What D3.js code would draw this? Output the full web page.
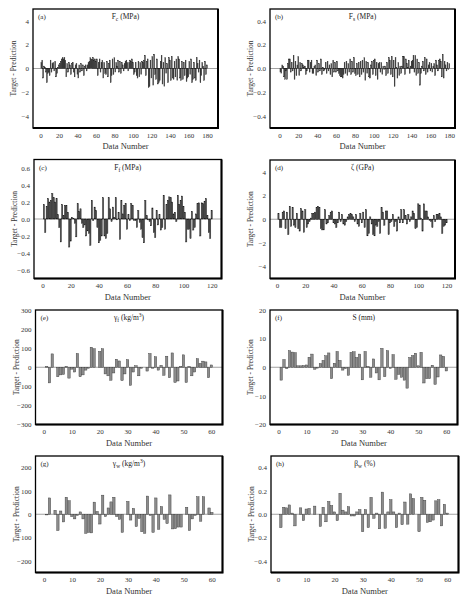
<!DOCTYPE html>
<html><head><meta charset="utf-8">
<script src="https://cdn.jsdelivr.net/npm/d3@7"></script>
<style>body{margin:0;background:#fff}svg{display:block}text{font-family:"Liberation Serif","DejaVu Serif",serif}</style>
</head><body><svg id="c" width="474" height="596"></svg>
<script>
// ---- data (Target - Prediction residuals) ----
const valuesA = [0.5,0.7,-0.8,0.2,0.1,-0.3,-1.2,-0.4,-0.3,-0.6,
 0.7,-0.3,0.4,0.5,-0.2,0.6,-0.7,-0.4,0.1,0.3,
 0.4,0.6,0.8,0.9,0.8,0.9,0.7,-0.7,0.4,-0.3,
 0.5,0.3,-0.5,0.4,0.5,-0.3,-0.7,0.3,0.4,-0.5,
 -0.8,0.3,-0.3,0.4,-0.2,0.3,-0.6,0.2,0.3,-0.2,
 0.3,0.5,0.6,0.9,0.8,0.8,0.9,0.7,0.8,0.6,
 0.8,-0.6,0.5,0.8,-0.3,0.5,0.7,-0.8,0.5,-0.4,
 -0.5,0.6,-0.7,0.4,0.7,-1.2,-0.6,0.8,-0.5,0.9,
 -0.3,0.5,0.2,0.7,-0.3,0.6,-0.4,0.5,0.3,-0.2,
 0.4,0.6,0.7,0.5,-0.2,0.5,0.7,0.6,0.8,0.5,
 -0.5,-0.3,0.5,-0.6,-0.8,0.6,-0.7,0.5,-0.5,0.6,
 0.5,0.7,1.1,-0.6,0.6,0.8,-1.6,-1.5,0.7,-0.8,
 1.0,-1.4,1.2,-0.5,-0.9,0.8,-1.3,-1.2,-1.0,0.6,
 1.1,-1.3,0.5,-1.5,0.9,-0.4,0.4,-1.2,0.9,0.7,
 -1.0,1.0,-0.8,-0.9,0.6,-0.7,0.8,-1.0,1.0,0.8,
 -0.8,-1.0,0.6,-0.9,0.5,-0.6,0.7,-1.1,-0.8,-0.7,
 0.6,-0.5,0.8,-1.2,-0.9,0.5,-0.8,-1.0,0.9,0.4,
 -0.3,0.7,-1.2,-0.6,0.5,0.2,-1.0,0.6,-0.5,0.3];
const valuesB = [-0.03,-0.04,0.03,0.02,-0.07,-0.09,-0.02,-0.09,0.04,0.08,
 0.08,-0.03,0.05,-0.02,0.11,-0.09,0.06,-0.06,0.03,0.1,
 -0.06,0.05,-0.02,0.04,0.03,0.01,0.02,-0.05,-0.02,0.07,
 0.07,-0.03,0.05,0.07,-0.04,-0.04,0.02,0.03,-0.06,0.07,
 -0.03,0.04,-0.02,0.08,-0.05,0.01,-0.02,-0.01,0.05,-0.04,
 0.06,-0.02,0.03,-0.05,0.04,-0.07,0.07,-0.03,0.05,-0.03,
 0.06,-0.02,-0.04,-0.06,-0.07,-0.07,-0.08,-0.05,0.05,-0.04,
 0.06,-0.06,0.04,-0.03,0.08,-0.05,0.06,-0.03,0.09,-0.04,
 -0.06,0.04,-0.05,0.05,-0.07,0.06,-0.05,0.07,-0.03,0.09,
 -0.1,0.06,-0.04,0.05,-0.07,-0.08,0.03,0.06,-0.05,0.07,
 0.08,-0.06,0.05,-0.09,0.04,0.05,-0.03,0.05,-0.05,0.02,
 -0.01,0.02,-0.06,0.05,-0.04,0.09,0.07,-0.05,0.1,-0.07,
 0.07,-0.15,0.09,0.01,-0.08,0.05,-0.06,0.02,-0.04,0.02,
 0.1,0.1,-0.05,0.08,0.04,0.01,0.07,-0.04,0.02,0.06,
 0.07,0.11,-0.03,0.11,-0.06,0.08,-0.04,0.05,-0.14,-0.04,
 0.02,0.06,-0.02,0.09,-0.05,0.08,-0.03,0.03,0.05,-0.02,
 0.04,-0.03,0.02,0.04,-0.06,0.07,0.03,-0.02,0.07,0.08,
 0.06,-0.07,0.12,-0.08,0.06,0.03,-0.02,0.05,-0.01,0.04];
const valuesC = [0.17,-0.16,0.15,0.24,0.2,0.22,0.3,0.25,0.2,0.24,
 0.05,-0.1,-0.27,0.17,0.04,0.16,0.16,0.08,-0.33,-0.26,
 0.02,0.01,-0.05,-0.21,0.18,0.09,0.12,-0.05,-0.1,-0.07,
 -0.2,-0.14,-0.17,-0.31,0.22,-0.02,0.14,0.1,-0.1,-0.28,
 -0.25,-0.2,0.25,-0.2,-0.23,-0.17,0.25,0.12,-0.03,0.14,
 0.02,0.25,-0.01,0.08,-0.24,0.22,0.06,0.16,0.18,-0.12,
 0.05,-0.02,0.18,0.16,-0.02,-0.02,-0.1,0.1,-0.04,-0.12,
 -0.22,-0.28,0.22,0.04,-0.01,-0.03,-0.08,0.13,-0.16,-0.22,
 0.1,-0.07,0.05,-0.13,-0.1,0.28,-0.12,0.17,0.22,0.26,
 0.25,0.2,0.06,0.08,-0.03,0.28,0.17,0.22,0.27,0.15,
 0.08,-0.27,-0.12,-0.12,-0.23,0.09,-0.13,-0.1,0.06,0.18,
 0.19,-0.2,0.19,0.18,0.21,0.24,0.04,-0.16,-0.23,0.1];
const valuesD = [0.5,-0.7,-0.7,0.6,0.7,-0.8,0.6,-1.3,1.1,-0.6,
 1.0,-0.5,-0.7,0.5,-0.8,-1.0,0.9,0.7,-1.1,0.8,
 -0.7,-0.4,-0.2,0.1,0.5,0.5,0.6,1.0,1.1,1.0,
 -0.8,-0.9,-0.9,0.8,-0.4,-0.3,0.3,0.6,0.7,-0.3,
 -0.4,-0.7,-0.3,0.6,-0.2,0.4,-0.4,-0.5,-0.2,0.2,
 0.4,0.5,0.4,0.2,-0.2,0.4,-0.4,-0.6,0.5,-0.3,
 0.6,-0.7,0.8,-1.4,-1.2,0.2,-0.4,-1.3,-1.4,-0.5,
 -0.6,-0.2,-1.2,1.0,0.6,-0.5,0.7,0.7,-1.3,-0.3,
 -0.2,0.4,-0.6,-0.2,-1.0,0.2,-0.3,0.8,-0.3,0.8,
 0.3,-0.4,0.4,-0.2,0.2,0.7,0.5,-0.8,-0.7,1.3,
 1.2,0.1,-1.0,1.3,0.7,0.7,0.2,-0.1,-0.2,-0.7,
 0.3,-0.2,0.4,0.4,0.5,0.2,-1.2,-0.6,-0.5,-0.3];
const valuesE = [5,-82,70,0,-50,-40,-38,5,-57,-10,
 -25,72,-50,-40,-15,-5,105,97,0,83,
 97,-35,-45,-68,-30,42,33,-70,-35,40,
 -95,-25,8,-45,-5,0,-20,72,-5,55,
 -15,10,-42,58,-55,75,-80,-72,5,65,
 -80,5,-45,-25,45,20,32,28,-55,12];
const valuesF = [-4.5,2.7,-0.5,5.8,5.3,5.1,0.5,0.5,0.6,0.8,
 3.5,4.6,-0.7,-0.3,1.3,2.4,4.0,5.0,-4.0,1.4,
 5.5,2.4,-1.0,-0.5,-2.8,5.2,5.4,3.4,4.6,-4.4,
 5.5,0.3,-3.5,2.9,-2.0,-4.4,6.6,-3.3,5.8,-0.4,
 4.4,-4.2,-2.5,-3.5,-4.5,-7.3,3.4,4.1,4.9,0.5,
 5.2,-5.5,-4.0,-4.0,0.7,-6.0,-3.4,4.3,3.8,-1.3];
const valuesG = [-3,70,0,17,-70,14,-33,73,58,-10,
 -20,-5,10,-20,-82,-78,-80,52,12,-42,
 82,-10,27,53,73,-10,-22,-78,0,55,
 -25,25,-53,-18,-75,-82,78,-5,-78,70,
 -65,33,-22,-40,83,-63,-62,-55,-55,0,
 30,-70,-20,-5,75,-30,75,0,27,8];
const valuesH = [-0.115,0.06,0.055,0.08,0.01,-0.1,0,0.055,-0.055,0.045,
 0.05,0,0.07,0,-0.105,0.06,-0.065,0.11,0.075,0.02,
 -0.055,0.18,0.035,0.02,0.065,-0.015,-0.015,0.02,0.04,-0.15,
 0.04,-0.115,0.145,-0.035,0.01,-0.125,0.19,-0.12,0.02,0.125,
 0.02,-0.115,0.01,-0.09,0.105,-0.085,0.175,0.135,0,-0.15,
 0.145,0.12,-0.07,-0.065,-0.05,0.115,0.125,-0.1,0.085,0.01];

const ticksA = [-4,-2,0,2,4], ticksB = [-0.4,-0.2,0,0.2,0.4];
const ticksC = [-0.6,-0.4,-0.2,0,0.2,0.4,0.6], ticksD = [-4,-2,0,2,4];
const ticksE = [-300,-200,-100,0,100,200,300], ticksF = [-20,-10,0,10,20];
const ticksG = [-200,-100,0,100,200], ticksH = [-0.4,-0.2,0,0.2,0.4];
const xTicks180 = d3.range(0,181,20), xTicks120 = d3.range(0,121,20), xTicks60 = d3.range(0,61,10);
const letters = ["(a)","(b)","(c)","(d)","(e)","(f)","(g)","(h)"];

// ---- layout ----
const panels = [
 {v:valuesA, yt:ticksA, yd:[-5,5], xt:xTicks180, xd:[-8,192], fmt:d3.format("d"), L:33, R:218, T:9, B:128, sym:"F", sub:"c", unit:" (MPa)"},
 {v:valuesB, yt:ticksB, yd:[-0.5,0.5], xt:xTicks180, xd:[-10,186], fmt:d3.format(".1f"), L:270, R:455, T:9, B:128, sym:"F", sub:"s", unit:" (MPa)"},
 {v:valuesC, yt:ticksC, yd:[-0.7,0.7], xt:xTicks120, xd:[-6,127], fmt:d3.format(".1f"), L:34, R:221.5, T:159.5, B:278.5, sym:"F", sub:"f", unit:" (MPa)"},
 {v:valuesD, yt:ticksD, yd:[-5,5], xt:xTicks120, xd:[-5,126], fmt:d3.format("d"), L:270, R:455, T:160, B:278.5, sym:"ζ", sub:"", unit:" (GPa)"},
 {v:valuesE, yt:ticksE, yd:[-300,300], xt:xTicks60, xd:[-3,64], fmt:d3.format("d"), L:35.5, R:222.5, T:310, B:424.5, sym:"γ", sub:"f", unit:" (kg/m", sup:"3", tail:")"},
 {v:valuesF, yt:ticksF, yd:[-20,20], xt:xTicks60, xd:[-3,64], fmt:d3.format("d"), L:270, R:457.5, T:310, B:424.5, sym:"S", sub:"", unit:" (mm)"},
 {v:valuesG, yt:ticksG, yd:[-250,250], xt:xTicks60, xd:[-3,63.8], fmt:d3.format("d"), L:35.5, R:222.5, T:456, B:572.5, sym:"γ", sub:"w", unit:" (kg/m", sup:"3", tail:")"},
 {v:valuesH, yt:ticksH, yd:[-0.5,0.5], xt:xTicks60, xd:[-2.5,64], fmt:d3.format(".1f"), L:271, R:458.5, T:456, B:572.5, sym:"β", sub:"w", unit:" (%)"}
];

const svg = d3.select("#c");
panels.forEach((p,i)=>{
  const x = d3.scaleLinear().domain(p.xd).range([p.L,p.R]);
  const y = d3.scaleLinear().domain(p.yd).range([p.B,p.T]);
  const g = svg.append("g");
  const bw = (x(1)-x(0))*0.85;
  const data = p.v.map((d,k)=>({n:k+1,v:d}));
  // zero line
  g.append("line").attr("x1",p.L).attr("x2",p.R).attr("y1",y(0)).attr("y2",y(0))
    .attr("stroke","#8a8a8a").attr("stroke-width",0.8);
  g.selectAll("rect.bar").data(data).join("rect").attr("class","bar")
    .attr("x",d=>x(d.n)-bw/2).attr("width",bw)
    .attr("y",d=>Math.min(y(d.v),y(0))).attr("height",d=>Math.abs(y(d.v)-y(0)))
    .attr("fill", p.v.length>100 ? "#555" : "#8c8c8c")
    .attr("stroke", p.v.length>100 ? "#111" : "#333").attr("stroke-width",0.4);
  // axes
  const ya = g.append("g").attr("transform",`translate(${p.L},0)`)
    .call(d3.axisLeft(y).tickValues(p.yt).tickFormat(p.fmt).tickSize(0).tickPadding(4));
  const xa = g.append("g").attr("transform",`translate(0,${p.B})`)
    .call(d3.axisBottom(x).tickValues(p.xt).tickFormat(d3.format("d")).tickSize(0).tickPadding(5));
  [ya,xa].forEach(a=>{
    a.select(".domain").remove();
    a.selectAll("line").remove();
    a.selectAll("text").attr("font-size",7).attr("fill","#333");
  });
  // frame
  g.append("rect").attr("x",p.L).attr("y",p.T).attr("width",p.R-p.L).attr("height",p.B-p.T)
    .attr("fill","none").attr("stroke","#000").attr("stroke-width",1.3);
  g.append("path").attr("d",`M${p.R},${p.T}V${p.B}H${p.L}`).attr("fill","none")
    .attr("stroke","#000").attr("stroke-width",2);
  // letters & title
  g.append("text").attr("x",p.L+5).attr("y",p.T+10).attr("font-size",7).attr("fill","#222").text(letters[i]);
  const t = g.append("text").attr("x",(p.L+p.R)/2).attr("y",p.T+10).attr("font-size",7.5)
    .attr("text-anchor","middle").attr("fill","#222");
  t.append("tspan").text(p.sym);
  if(p.sub) t.append("tspan").attr("font-size",5.5).attr("dy",2).text(p.sub);
  t.append("tspan").attr("dy",p.sub?-2:0).text(p.unit);
  if(p.sup){ t.append("tspan").attr("font-size",5.5).attr("dy",-3).text(p.sup);
    t.append("tspan").attr("dy",3).text(p.tail); }
  // axis titles
  g.append("text").attr("x",(p.L+p.R)/2).attr("y",p.B+21).attr("font-size",8.5)
    .attr("text-anchor","middle").attr("fill","#333").text("Data Number");
  const ly = (p.T+p.B)/2, lx = p.L-17;
  g.append("text").attr("transform",`translate(${lx},${ly}) rotate(-90)`).attr("font-size",7.5)
    .attr("text-anchor","middle").attr("fill","#333").text("Target - Prediction");
});
</script></body></html>
